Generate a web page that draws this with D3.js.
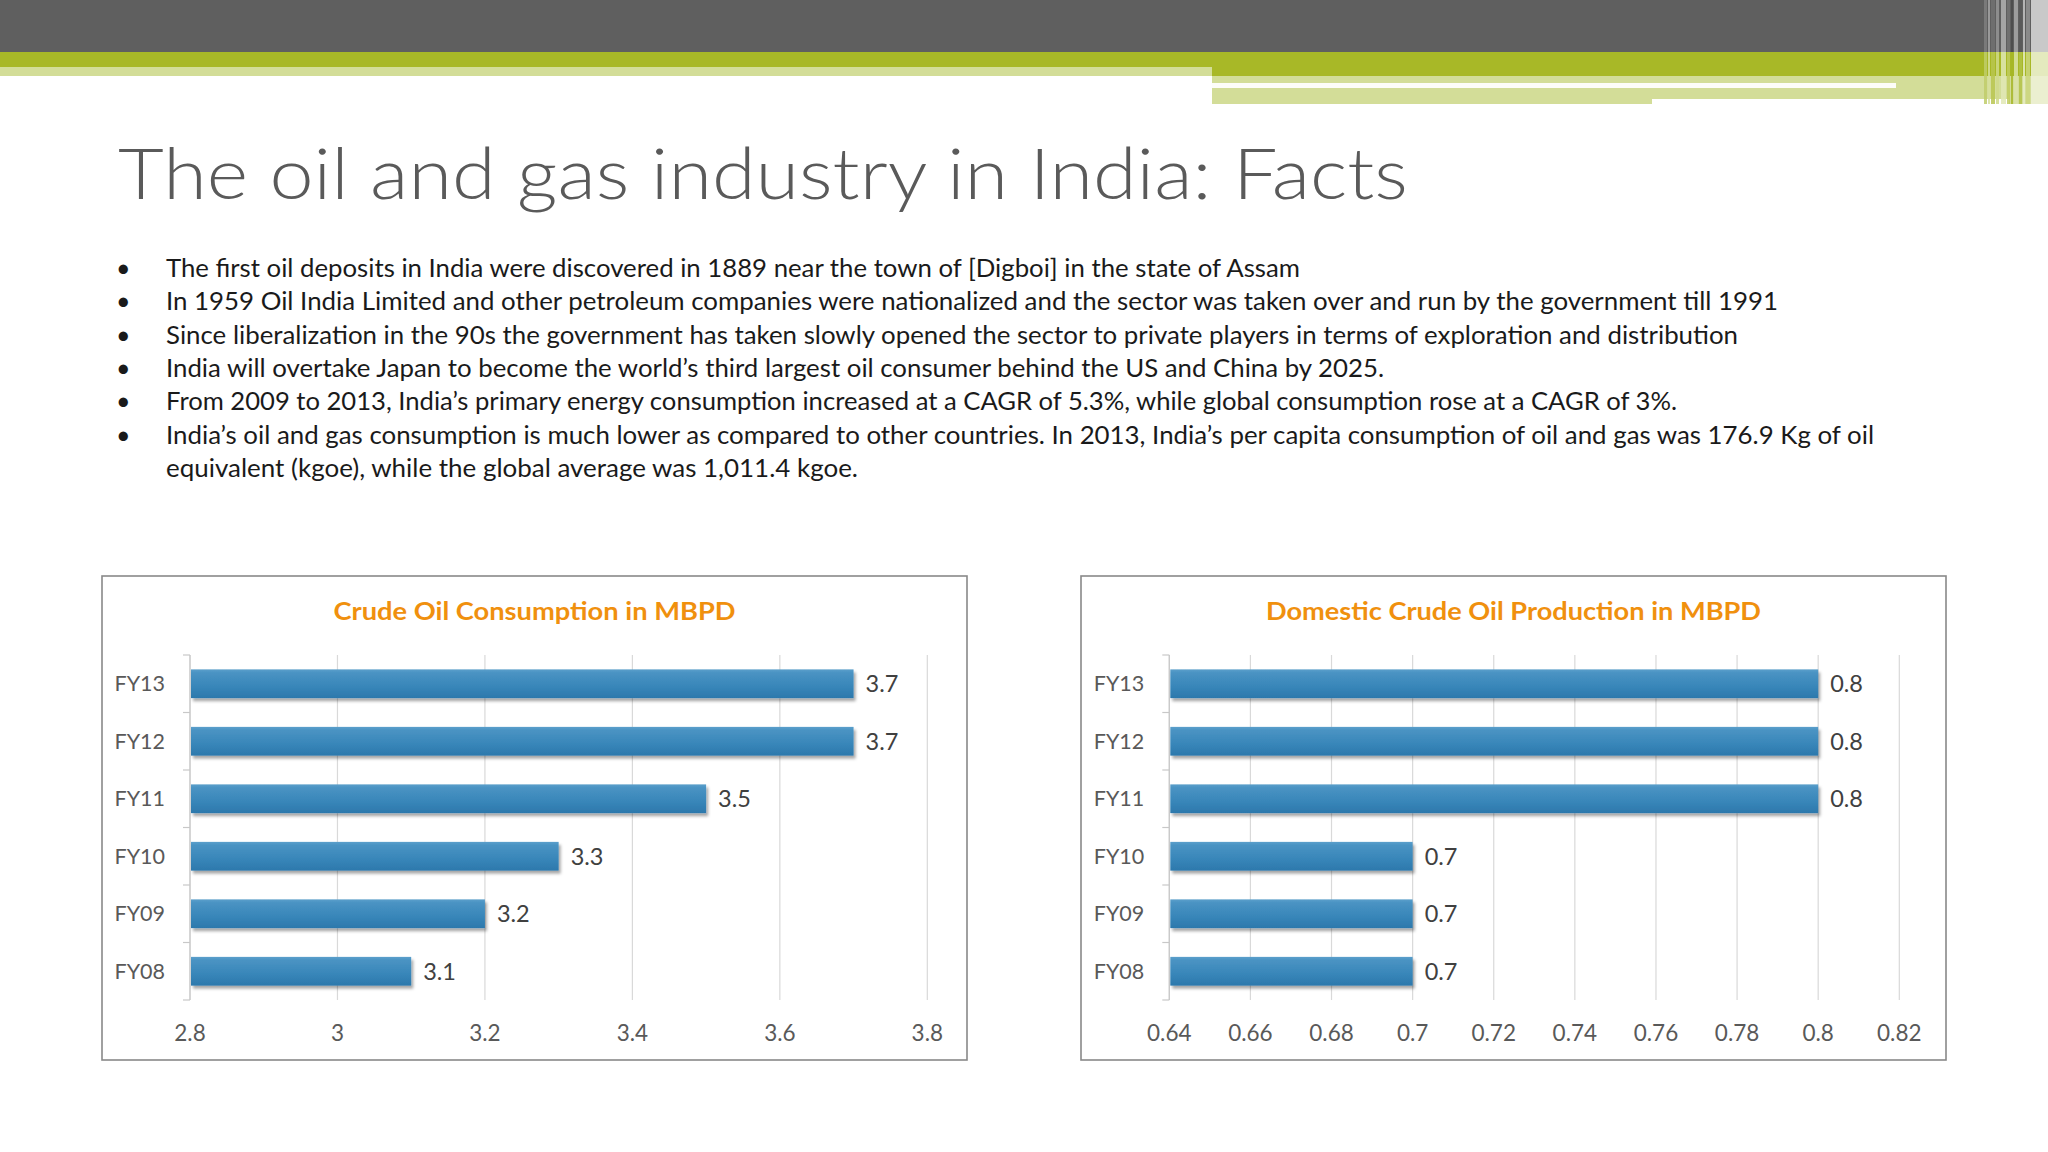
<!DOCTYPE html>
<html>
<head>
<meta charset="utf-8">
<script src="https://cdn.jsdelivr.net/npm/d3@7"></script>
<style>
  html, body { margin: 0; padding: 0; background: #ffffff; }
  svg { display: block; }
</style>
</head>
<body>
<svg id="slide" width="2048" height="1152"></svg>
<script>
// ---------- DATA ----------
const categories = ["FY08", "FY09", "FY10", "FY11", "FY12", "FY13"];
const consumptionValues = [3.1, 3.2, 3.3, 3.5, 3.7, 3.7];
const productionValues = [0.7, 0.7, 0.7, 0.8, 0.8, 0.8];
const consumptionTicks = [2.8, 3, 3.2, 3.4, 3.6, 3.8];
const productionTicks = [0.64, 0.66, 0.68, 0.7, 0.72, 0.74, 0.76, 0.78, 0.8, 0.82];
const chartTitles = ["Crude Oil Consumption in MBPD", "Domestic Crude Oil Production in MBPD"];
const slideTitle = "The oil and gas industry in India: Facts";
const bullets = [
  "The first oil deposits in India were discovered in 1889 near the town of [Digboi] in the state of Assam",
  "In 1959 Oil India Limited and other petroleum companies were nationalized and the sector was taken over and run by the government till 1991",
  "Since liberalization in the 90s the government has taken slowly opened the sector to private players in terms of exploration and distribution",
  "India will overtake Japan to become the world\u2019s third largest oil consumer behind the US and China by 2025.",
  "From 2009 to 2013, India\u2019s primary energy consumption increased at a CAGR of 5.3%, while global consumption rose at a CAGR of 3%.",
  "India\u2019s oil and gas consumption is much lower as compared to other countries. In 2013, India\u2019s per capita consumption of oil and gas was 176.9 Kg of oil"
];
const bulletContinuation = "equivalent (kgoe), while the global average was 1,011.4 kgoe.";

// ---------- SETUP ----------
const FONT = "Lato, 'Open Sans', 'DejaVu Sans', sans-serif";
const svg = d3.select("#slide");
const defs = svg.append("defs");

const grad = defs.append("linearGradient").attr("id", "barGrad")
  .attr("x1", 0).attr("y1", 0).attr("x2", 0).attr("y2", 1);
grad.append("stop").attr("offset", "0%").attr("stop-color", "#5b9fcb");
grad.append("stop").attr("offset", "12%").attr("stop-color", "#4a93c3");
grad.append("stop").attr("offset", "60%").attr("stop-color", "#3886b9");
grad.append("stop").attr("offset", "100%").attr("stop-color", "#2c78ac");

const shadow = defs.append("filter").attr("id", "barShadow")
  .attr("x", "-5%").attr("y", "-30%").attr("width", "110%").attr("height", "180%");
shadow.append("feDropShadow").attr("dx", 2).attr("dy", 3).attr("stdDeviation", 1.8)
  .attr("flood-color", "#000").attr("flood-opacity", 0.35);

// ---------- HEADER DECORATION ----------
const deco = svg.append("g");
deco.append("rect").attr("x", 0).attr("y", 0).attr("width", 2048).attr("height", 52).attr("fill", "#5f5f5f");
deco.append("rect").attr("x", 0).attr("y", 52).attr("width", 1212).attr("height", 15).attr("fill", "#a8b827");
deco.append("rect").attr("x", 0).attr("y", 67).attr("width", 1212).attr("height", 9).attr("fill", "#d3dd98");
deco.append("rect").attr("x", 1212).attr("y", 52).attr("width", 836).attr("height", 24).attr("fill", "#a8b827");
deco.append("rect").attr("x", 1212).attr("y", 76).attr("width", 836).attr("height", 28).attr("fill", "#d3dd98");
deco.append("rect").attr("x", 1212).attr("y", 83).attr("width", 684).attr("height", 5).attr("fill", "#fdfdf8");
deco.append("rect").attr("x", 1652).attr("y", 99).attr("width", 357).attr("height", 5).attr("fill", "#ffffff");
// vertical stripes at the right edge
const stripes = [
  [1984, 3, "#7a7a7a", "#c0cc6a"], [1988, 2, "#9a9a9a", "#d6df9c"], [1991, 4, "#6e6e6e", "#b8c650"],
  [1996, 3, "#8d8d8d", "#cfd98a"], [2001, 5, "#a5a5a5", "#e0e7b5"], [2007, 3, "#707070", "#bfcb5e"],
  [2011, 2, "#4e4e4e", "#a6b628"], [2014, 4, "#9d9d9d", "#dbe3a8"], [2019, 3, "#5a5a5a", "#b3c246"],
  [2023, 2, "#b5b5b5", "#e6ecc4"], [2026, 4, "#8a8a8a", "#cbd67e"], [2031, 17, "#c9c9c9", "#eef2d9"]
];
stripes.forEach(s => {
  deco.append("rect").attr("x", s[0]).attr("y", 0).attr("width", s[1]).attr("height", 52).attr("fill", s[2]);
  deco.append("rect").attr("x", s[0]).attr("y", 52).attr("width", s[1]).attr("height", 52).attr("fill", s[3]).attr("opacity", 0.85);
});

// ---------- TITLE ----------
svg.append("text")
  .attr("x", 118).attr("y", 199)
  .attr("font-family", FONT).attr("font-weight", 300).attr("font-size", 71)
  .attr("fill", "#5a5a5a")
  .attr("textLength", 1290).attr("lengthAdjust", "spacingAndGlyphs")
  .text(slideTitle);

// ---------- BULLETS ----------
const bulletWidths = [1134, 1612, 1572, 1218, 1511, 1708];
const lineGap = 33.3;
const firstBase = 277;
const bg = svg.append("g").attr("font-family", FONT).attr("font-size", 25).attr("fill", "#1a1a1a");
bullets.forEach((t, i) => {
  const y = firstBase + i * lineGap;
  bg.append("text").attr("x", 116).attr("y", y).text("\u2022");
  bg.append("text").attr("x", 166).attr("y", y)
    .attr("textLength", bulletWidths[i]).attr("lengthAdjust", "spacingAndGlyphs").text(t);
});
bg.append("text").attr("x", 166).attr("y", firstBase + 6 * lineGap)
  .attr("textLength", 692).attr("lengthAdjust", "spacingAndGlyphs").text(bulletContinuation);

// ---------- CHARTS ----------
function drawChart(opts) {
  const g = svg.append("g");
  // frame
  g.append("rect").attr("x", opts.box[0]).attr("y", opts.box[1])
    .attr("width", opts.box[2] - opts.box[0]).attr("height", opts.box[3] - opts.box[1])
    .attr("fill", "#ffffff").attr("stroke", "#898989").attr("stroke-width", 1.6);
  // title
  g.append("text").attr("x", (opts.box[0] + opts.box[2]) / 2).attr("y", 620)
    .attr("text-anchor", "middle").attr("font-family", FONT).attr("font-weight", 700)
    .attr("font-size", 25.5).attr("fill", "#f0900e")
    .attr("textLength", opts.titleWidth).attr("lengthAdjust", "spacingAndGlyphs")
    .text(opts.title);

  const x = d3.scaleLinear().domain(opts.domain).range(opts.xRange);
  const y = d3.scaleBand().domain(categories.slice().reverse())
    .range([655, 1000]).paddingInner(0.5).paddingOuter(0.25);
  const top = 655, bottom = 1000;
  const step = y.step();

  // gridlines
  g.append("g").selectAll("line").data(opts.ticks).join("line")
    .attr("x1", d => x(d)).attr("x2", d => x(d))
    .attr("y1", top).attr("y2", bottom)
    .attr("stroke", "#d9d9d9").attr("stroke-width", 1.2);

  // category axis line + ticks at band boundaries
  const bounds = [top].concat(categories.map((c, i) => top + (i + 1) * step));
  g.append("line").attr("x1", x(opts.domain[0])).attr("x2", x(opts.domain[0]))
    .attr("y1", top).attr("y2", bottom).attr("stroke", "#c8c8c8").attr("stroke-width", 1.2);
  g.append("g").selectAll("line").data(bounds).join("line")
    .attr("x1", x(opts.domain[0]) - 7).attr("x2", x(opts.domain[0]))
    .attr("y1", d => d).attr("y2", d => d)
    .attr("stroke", "#c8c8c8").attr("stroke-width", 1.2);

  // bars
  const data = categories.map((c, i) => ({ c, v: opts.values[i] }));
  g.append("g").selectAll("rect").data(data).join("rect")
    .attr("x", x(opts.domain[0]) + 1)
    .attr("y", d => y(d.c))
    .attr("width", d => x(d.v) - x(opts.domain[0]) - 1)
    .attr("height", y.bandwidth())
    .attr("fill", "url(#barGrad)")
    .attr("filter", "url(#barShadow)");

  // value labels
  g.append("g").selectAll("text").data(data).join("text")
    .attr("x", d => x(d.v) + 12)
    .attr("y", d => y(d.c) + y.bandwidth() / 2)
    .attr("dy", "0.36em")
    .attr("font-family", FONT).attr("font-size", 23.5).attr("fill", "#404040")
    .text(d => String(d.v));

  // category labels
  g.append("g").selectAll("text").data(categories).join("text")
    .attr("x", x(opts.domain[0]) - 25)
    .attr("y", d => y(d) + y.bandwidth() / 2)
    .attr("dy", "0.36em")
    .attr("text-anchor", "end")
    .attr("font-family", FONT).attr("font-size", 21.5).attr("fill", "#595959")
    .text(d => d);

  // x tick labels
  g.append("g").selectAll("text").data(opts.ticks).join("text")
    .attr("x", d => x(d)).attr("y", 1041)
    .attr("text-anchor", "middle")
    .attr("font-family", FONT).attr("font-size", 22.5).attr("fill", "#595959")
    .text(d => String(d));
}

drawChart({
  box: [102, 576, 967, 1060],
  title: chartTitles[0], titleWidth: 402,
  domain: [2.8, 3.8], xRange: [190, 927.3],
  ticks: consumptionTicks, values: consumptionValues
});
drawChart({
  box: [1081, 576, 1946, 1060],
  title: chartTitles[1], titleWidth: 495,
  domain: [0.64, 0.82], xRange: [1169.3, 1899.3],
  ticks: productionTicks, values: productionValues
});
</script>
</body>
</html>
